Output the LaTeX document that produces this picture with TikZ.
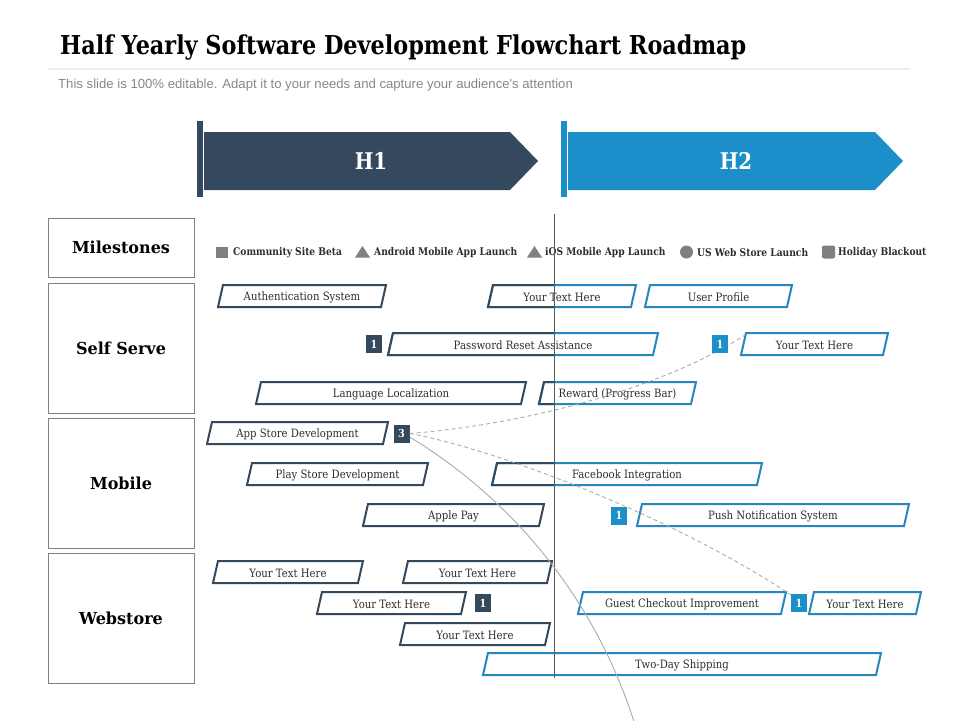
\documentclass[tikz,border=0pt]{standalone}
\usepackage{fontspec}
\setmainfont{DejaVu Serif}
\newfontfamily\slab[FakeStretch=0.88]{DejaVu Serif}
\newfontfamily\legfont[FakeStretch=0.86]{DejaVu Serif}
\newfontfamily\catfont[FakeStretch=0.97]{DejaVu Serif}
\newfontfamily\hfont[FakeStretch=0.86]{DejaVu Serif}
\newfontfamily\titlefont[FakeStretch=0.86]{DejaVu Serif}
\newfontfamily\subfont[FakeStretch=1.0]{Liberation Sans}
\definecolor{navy}{HTML}{34495E}
\definecolor{skyb}{HTML}{1C8ECA}
\definecolor{bordb}{HTML}{2587BC}
\definecolor{txtc}{HTML}{2E2E2E}
\definecolor{legc}{HTML}{808080}
\definecolor{catc}{HTML}{808080}
\definecolor{curvec}{HTML}{ABABAB}
\tikzset{
  boxline/.style={line width=2pt, line join=miter},
  dkline/.style={boxline, draw=navy},
  blline/.style={boxline, draw=bordb},
  boxtxt/.style={inner sep=0pt, text=txtc, font=\slab\fontsize{11.5}{13}\selectfont},
  legtxt/.style={inner sep=0pt, anchor=west, text=txtc, font=\legfont\bfseries\fontsize{10.6}{12}\selectfont},
  cat/.style={draw=catc, line width=0.8pt, minimum width=146pt, inner sep=0pt, font=\catfont\bfseries\fontsize{16.5}{19}\selectfont, text=black},
  badge/.style={minimum width=16pt, minimum height=18pt, inner sep=0pt, text=white, font=\slab\bfseries\fontsize{11}{12}\selectfont},
  dkbadge/.style={badge, fill=navy},
  blbadge/.style={badge, fill=skyb},
  htxt/.style={inner sep=0pt, text=white, font=\hfont\bfseries\fontsize{23}{26}\selectfont},
  curveline/.style={draw=curvec, line width=0.9pt},
  dashline/.style={draw=curvec, line width=0.9pt, dash pattern=on 4pt off 3pt}
}
% task box: name, x bottom-left, x top-right, y centre, style, text
\newcommand\tb[6]{%
  \draw[#5] (#2,#4+11) -- (#2+5,#4-11) -- (#3,#4-11) -- (#3-5,#4+11) -- cycle;
  \node[boxtxt] (#1) at ({(#2+#3)/2},#4+1) {#6};}
% split box: dark left of the divider, blue right of it
\newcommand\tbs[5]{%
  \draw[blline] (#2,#4+11) -- (#2+5,#4-11) -- (#3,#4-11) -- (#3-5,#4+11) -- cycle;
  \begin{scope}
    \clip (0,0) rectangle (554,720);
    \draw[dkline] (#2,#4+11) -- (#2+5,#4-11) -- (#3,#4-11) -- (#3-5,#4+11) -- cycle;
  \end{scope}
  \node[boxtxt] (#1) at ({(#2+#3)/2},#4+1) {#5};}
\begin{document}
\begin{tikzpicture}[x=1pt,y=-1pt]
\useasboundingbox (0,0) rectangle (960,720);
\fill[white] (0,0) rectangle (960,720);

% title
\node[anchor=base west, inner sep=0pt, font=\titlefont\bfseries\fontsize{26}{30}\selectfont] (title) at (60,54) {Half Yearly Software Development Flowchart Roadmap};
\draw[line width=2.5pt, draw=black!7] (48,69) -- (910,69);
\node[anchor=base west, inner sep=0pt, text=black!47, font=\subfont\fontsize{13.15}{15}\selectfont] (sub) at (58,88.5) {This slide is 100\% editable. Adapt it to your needs and capture your audience's attention};

% half-year arrows
\fill[navy] (197,121) rectangle (203,197);
\fill[navy] (204,132) -- (510,132) -- (538,161) -- (510,190) -- (204,190) -- cycle;
\node[htxt] (h1) at (371,161) {H1};
\fill[skyb] (561,121) rectangle (567,197);
\fill[skyb] (568,132) -- (875,132) -- (903,161) -- (875,190) -- (568,190) -- cycle;
\node[htxt] (h2) at (736,161) {H2};

% category boxes
\node[cat, minimum height=59pt] (mil) at (121,247.5) {Milestones};
\node[cat, minimum height=130pt] (self) at (121,348) {Self Serve};
\node[cat, minimum height=130pt] (mob) at (121,483) {Mobile};
\node[cat, minimum height=130pt] (web) at (121,618) {Webstore};

% legend
\fill[legc] (216,246.5) rectangle (228,257.5);
\node[legtxt] (l1) at (233,253) {Community Site Beta};
\fill[legc] (355,257.5) -- (362.5,246) -- (370,257.5) -- cycle;
\node[legtxt] (l2) at (374,253) {Android Mobile App Launch};
\fill[legc] (527,257.5) -- (534.5,246) -- (542,257.5) -- cycle;
\node[legtxt] (l3) at (545,253) {iOS Mobile App Launch};
\fill[legc] (686.5,252) circle (6.5);
\node[legtxt] (l4) at (697,253) {US Web Store Launch};
\fill[legc, rounded corners=2pt] (822,245.5) rectangle (835,258.5);
\node[legtxt] (l5) at (838,253) {Holiday Blackout};

% Self Serve
\tb{auth}{218}{386}{296}{dkline}{Authentication System}
\tbs{yt1}{488}{636}{296}{Your Text Here}
\tb{user}{645}{792}{296}{blline}{User Profile}
\tbs{pwd}{388}{658}{344}{Password Reset Assistance}
\tb{yt2}{741}{888}{344}{blline}{Your Text Here}
\tb{lang}{256}{526}{393}{dkline}{Language Localization}
\tbs{reward}{539}{696}{393}{Reward (Progress Bar)}

% Mobile
\tb{appst}{207}{388}{433}{dkline}{App Store Development}
\tb{playst}{247}{428}{474}{dkline}{Play Store Development}
\tbs{fb}{492}{762}{474}{Facebook Integration}
\tb{apple}{363}{544}{515}{dkline}{Apple Pay}
\tb{push}{637}{909}{515}{blline}{Push Notification System}

% Webstore
\tb{w1}{213}{363}{572}{dkline}{Your Text Here}
\tb{w2}{403}{552}{572}{dkline}{Your Text Here}
\tb{w3}{317}{466}{603}{dkline}{Your Text Here}
\tb{guest}{578}{786}{603}{blline}{Guest Checkout Improvement}
\tb{w4}{809}{921}{603}{blline}{Your Text Here}
\tb{w5}{400}{550}{634}{dkline}{Your Text Here}
\tb{ship}{483}{881}{664}{blline}{Two-Day Shipping}

% divider
\draw[draw=black!65, line width=0.9pt] (554,214) -- (554,678);

% badges
\node[dkbadge] (b3) at (401.5,433.5) {3};
\coordinate (e1) at (745,335);
\draw[dashline] (b3.east) .. controls (520,425) and (660,390) .. (e1);
\draw[dashline] (b3.east) .. controls (500,450) and (680,520) .. (794,597);
\draw[curveline, domain=58.7:17.5, samples=60, variable=\t] plot ({141.8+516.7*cos(\t)}, {878.8-516.7*sin(\t)});
\node[dkbadge] (b1a) at (374,344) {1};
\node[blbadge] (b1b) at (720,344) {1};
\node[blbadge] (b1c) at (619,515.5) {1};
\node[dkbadge] (b1d) at (483,603) {1};
\node[blbadge] (b1e) at (799,603) {1};
\end{tikzpicture}
\end{document}
